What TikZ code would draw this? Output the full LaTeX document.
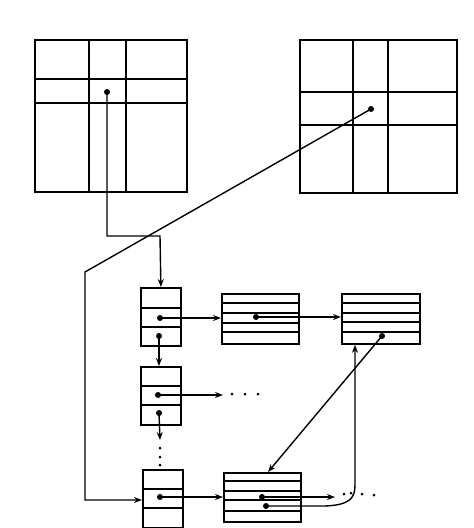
\documentclass[tikz,border=0pt]{standalone}
\usetikzlibrary{arrows.meta,calc}
\begin{document}
\begin{tikzpicture}[x=1pt,y=-1pt,
  frame/.style={line width=1.8pt},
  conn/.style={line width=1.4pt},
  arr/.style={conn,-{Stealth[length=8pt,width=6pt]}},
  dotc/.style={circle,fill,inner sep=0pt,minimum size=6pt},
  boxn/.style={draw,line width=1.8pt,inner sep=0pt,anchor=north west},
  ell/.style={circle,fill,inner sep=0pt,minimum size=3pt}]
\useasboundingbox (0,0) rectangle (474,528);

% ---- left grid ----
\node[boxn,minimum width=152,minimum height=152] (gL) at (34,39) {};
\draw[frame] (89,39)--(89,191) (126,39)--(126,191) (34,79)--(186,79) (34,103)--(186,103);
\node[dotc] (dL) at (107,92) {};

% ---- right grid ----
\node[boxn,minimum width=157,minimum height=153] (gR) at (299,39) {};
\draw[frame] (353,39)--(353,192) (388,39)--(388,192) (299,92)--(456,92) (299,125)--(456,125);
\node[dotc] (dR) at (371,109) {};

% ---- vertical list cells ----
\node[boxn,minimum width=40,minimum height=58] (b1) at (140,287) {};
\draw[frame] (140,308)--(180,308) (140,327)--(180,327);
\node[dotc] (d1a) at (160,318) {};
\node[dotc] (d1b) at (159,336) {};

\node[boxn,minimum width=40,minimum height=58] (b2) at (140,366) {};
\draw[frame] (140,386)--(180,386) (140,405)--(180,405);
\node[dotc] (d2a) at (158,395) {};
\node[dotc] (d2b) at (159,413) {};
\coordinate (e2) at (160,440);

\node[boxn,minimum width=40,minimum height=58] (b4) at (142,469) {};
\draw[frame] (142,489)--(182,489) (142,508)--(182,508);
\node[dotc] (d4a) at (160,497) {};

% ---- horizontal records ----
\node[boxn,minimum width=77,minimum height=50] (r1) at (221,293) {};
\draw[frame] (221,303)--(298,303) (221,313)--(298,313) (221,323)--(298,323) (221,332)--(298,332);
\node[dotc] (dr1) at (256,317) {};

\node[boxn,minimum width=78,minimum height=50] (r2) at (341,293) {};
\draw[frame] (341,303)--(419,303) (341,313)--(419,313) (341,322)--(419,322) (341,332)--(419,332);
\node[dotc] (dr2) at (382,336) {};

\node[boxn,minimum width=77,minimum height=49] (r3) at (223,472) {};
\draw[frame] (223,481)--(300,481) (223,491)--(300,491) (223,500)--(300,500) (223,511)--(300,511);
\node[dotc] (dr3a) at (262,497) {};
\node[dotc] (dr3b) at (266,506) {};

% ---- bends ----
\coordinate (t1) at (107,236);
\coordinate (t2) at (160,236);
\coordinate (k1) at (85,272);
\coordinate (k2) at (85,500);
\coordinate (m1) at (223,395);
\coordinate (m2) at (335,497);
\coordinate (c1) at (325,506);
\coordinate (c2) at (355,485);

% ---- connectors ----
\draw[arr] (dL.center) -- (t1) -- (t2) -- (b1.north);
\draw[arr] (dR.center) -- (k1) -- (k2) -- (k2 -| b4.west);
\draw[arr] (d1a.center) -- (d1a -| r1.west);
\draw[arr] (d1b.center) -- (d1b |- b2.north);
\draw[arr] (dr1.center) -- (dr1 -| r2.west);
\draw[arr] (d2a.center) -- (m1);
\draw[arr] (d2b.center) -- (e2);
\draw[arr] (d4a.center) -- (d4a -| r3.west);
\draw[arr] (dr2.center) -- (268,472);
\draw[arr] (dr3a.center) -- (m2);
\draw[arr] (dr3b.center) -- (c1) .. controls (350,505) and (355,498) .. (c2) -- (c2 |- r2.south);

% ---- ellipsis dots ----
\node[ell] (p1) at (232,394) {};
\node[ell] (p2) at (245,394) {};
\node[ell] (p3) at (258,394) {};
\node[ell] (v1) at (160,448) {};
\node[ell] (v2) at (160,457) {};
\node[ell] (v3) at (160,465) {};
\node[ell] (q1) at (344,494) {};
\node[ell] (q2) at (351,493) {};
\node[ell] (q3) at (362,494) {};
\node[ell] (q4) at (374,495) {};
\end{tikzpicture}
\end{document}
